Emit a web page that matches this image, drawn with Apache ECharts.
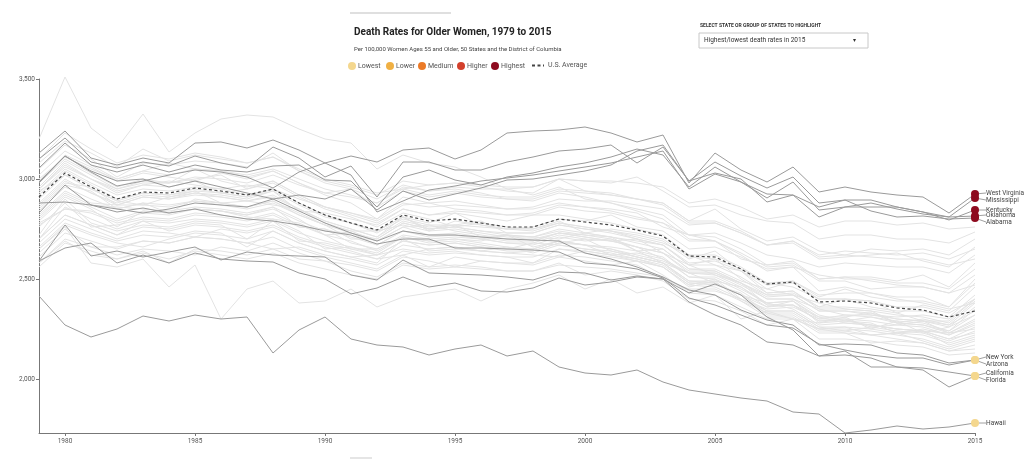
<!DOCTYPE html>
<html>
<head>
<meta charset="utf-8">
<script src="https://cdn.jsdelivr.net/npm/echarts@6/dist/echarts.min.js"></script>
<style>
html, body { margin: 0; padding: 0; background: #fff; }
#chart { width: 1024px; height: 460px; }
</style>
</head>
<body>
<div id="chart"></div>
<script>
var years = [1979,1980,1981,1982,1983,1984,1985,1986,1987,1988,1989,1990,1991,1992,1993,1994,1995,1996,1997,1998,1999,2000,2001,2002,2003,2004,2005,2006,2007,2008,2009,2010,2011,2012,2013,2014,2015];
var yTicks = [2000, 2500, 3000, 3500];
var xTicks = [1980, 1985, 1990, 1995, 2000, 2005, 2010, 2015];

var usAverage = [2910,3030,2960,2900,2935,2930,2955,2940,2920,2950,2880,2820,2780,2745,2820,2790,2800,2780,2760,2760,2800,2785,2770,2745,2715,2615,2610,2550,2475,2485,2385,2390,2380,2355,2345,2310,2340];

// five highest death rates in 2015
var highNames = ['West Virginia', 'Mississippi', 'Kentucky', 'Oklahoma', 'Alabama'];
var highValues = [
  [3130,3240,3105,3070,3105,3080,3180,3185,3155,3195,3145,3080,3115,3085,3145,3155,3100,3145,3230,3240,3245,3260,3230,3185,3220,2980,3130,3045,2985,3060,2935,2960,2935,2920,2910,2830,2925],
  [3100,3205,3085,3055,3085,3065,3115,3080,3055,3160,3105,3010,3065,2910,3085,3085,3045,3045,3085,3110,3140,3150,3170,3080,3160,2990,3085,3015,2955,3010,2880,2895,2895,2860,2835,2810,2905],
  [3055,3180,3070,3035,3070,3035,3070,3045,3035,3065,3070,2995,2990,2860,3010,3045,2995,2970,3010,3030,3060,3080,3110,3150,3120,2960,3060,2985,2905,2985,2845,2860,2860,2860,2835,2795,2845],
  [2880,2885,2870,2850,2830,2850,2880,2870,2860,2900,2920,2900,2950,2845,2940,2895,2925,2955,2995,3000,3020,3040,3070,3140,3170,2990,3030,3000,2885,2920,2810,2860,2880,2850,2825,2810,2815],
  [2980,3115,3035,2965,2990,3020,3045,3035,3010,2955,3035,3080,3020,2835,2890,2945,2965,2990,3005,3020,3040,3060,3080,3110,3140,2950,3025,2985,2925,2920,2860,2895,2840,2810,2815,2800,2805]
];

// five lowest death rates in 2015
var lowNames = ['New York', 'Arizona', 'California', 'Florida', 'Hawaii'];
var lowValues = [
  [2985,3115,3040,2990,3000,2960,2990,2960,2930,2900,2840,2780,2730,2690,2740,2720,2720,2710,2700,2695,2690,2630,2600,2560,2510,2445,2420,2345,2295,2270,2170,2175,2170,2130,2120,2080,2095],
  [2830,2970,2870,2835,2855,2830,2850,2820,2800,2790,2770,2740,2720,2675,2700,2700,2655,2655,2650,2645,2635,2580,2570,2550,2505,2405,2370,2320,2270,2255,2175,2145,2120,2105,2105,2070,2095],
  [2590,2770,2615,2640,2610,2635,2660,2595,2635,2620,2615,2610,2520,2495,2595,2530,2525,2520,2510,2495,2535,2530,2495,2515,2500,2430,2475,2420,2310,2245,2115,2140,2060,2060,2045,1960,2015],
  [2590,2655,2680,2580,2620,2580,2630,2600,2590,2585,2530,2500,2425,2455,2510,2460,2480,2440,2435,2455,2505,2470,2485,2510,2500,2385,2320,2270,2185,2170,2115,2120,2105,2060,2055,2035,2015],
  [2415,2270,2210,2250,2315,2290,2320,2300,2310,2130,2245,2310,2200,2170,2160,2120,2150,2170,2115,2140,2060,2030,2020,2045,1985,1945,1925,1905,1890,1835,1825,1730,1745,1765,1750,1760,1780]
];

// remaining states and DC, drawn in light grey
var otherValues = [
  [3050,3170,3100,3010,3080,3070,3090,3080,3060,3130,3040,2990,2960,2920,2990,2970,2980,2970,2960,2960,3000,2990,2980,3010,2940,2860,2870,2820,2790,2780,2700,2720,2720,2700,2700,2680,2735],
  [2990,3120,3060,2990,3030,3010,2990,3030,3000,3040,2980,2930,2950,2860,2940,2910,2930,2910,2900,2900,2940,2930,2920,2900,2880,2790,2850,2750,2690,2710,2640,2620,2650,2640,2650,2620,2700],
  [3080,3190,3130,3060,3150,3090,3120,3100,3080,3110,3050,3000,2970,2930,2950,2970,2980,2960,2940,2930,3000,2940,2920,2900,2870,2780,2780,2730,2670,2680,2600,2610,2620,2630,2590,2560,2660],
  [2860,2980,2960,2870,2910,2900,2930,2920,2900,2940,2840,2830,2800,2770,2850,2820,2840,2830,2820,2830,2870,2860,2850,2830,2760,2720,2730,2680,2620,2600,2560,2580,2570,2560,2560,2530,2620],
  [2950,3080,3000,2940,2970,2960,2990,2930,2950,2990,2920,2860,2830,2790,2870,2880,2850,2840,2820,2820,2860,2840,2830,2800,2780,2690,2690,2600,2570,2590,2500,2510,2510,2490,2520,2460,2580],
  [2780,2850,2840,2790,2830,2820,2850,2840,2820,2860,2800,2720,2730,2700,2780,2750,2770,2760,2750,2760,2800,2790,2820,2760,2740,2650,2660,2610,2550,2560,2520,2500,2500,2480,2480,2450,2550],
  [3020,3140,3070,3000,3040,3080,3050,3040,3010,3040,2980,2920,2880,2800,2910,2880,2890,2870,2850,2850,2880,2860,2840,2810,2780,2720,2690,2630,2560,2570,2490,2490,2450,2460,2460,2430,2520],
  [2700,2820,2770,2720,2760,2750,2780,2770,2700,2790,2730,2690,2660,2630,2710,2690,2700,2690,2720,2690,2730,2720,2710,2690,2670,2580,2590,2540,2450,2490,2420,2430,2430,2410,2410,2360,2500],
  [2940,3020,2950,2890,2930,2920,2950,2930,2910,2940,2870,2810,2780,2740,2810,2780,2830,2770,2750,2750,2790,2730,2750,2730,2700,2610,2600,2550,2480,2490,2410,2450,2410,2390,2390,2360,2480],
  [2820,2940,2880,2870,2870,2860,2890,2870,2850,2880,2820,2770,2700,2700,2780,2750,2760,2740,2730,2730,2770,2750,2740,2720,2690,2600,2640,2540,2470,2480,2400,2400,2390,2330,2370,2340,2460],
  [2960,3090,3020,2950,2990,2980,3050,2990,2960,2990,2920,2860,2820,2780,2850,2820,2830,2810,2790,2820,2820,2800,2780,2750,2720,2620,2620,2560,2480,2460,2400,2400,2390,2360,2360,2330,2400],
  [2650,2770,2720,2680,2660,2700,2730,2720,2700,2740,2680,2640,2610,2580,2700,2640,2650,2640,2630,2640,2680,2670,2660,2640,2580,2530,2530,2480,2420,2430,2360,2400,2360,2340,2340,2310,2420],
  [2880,3000,2930,2870,2910,2900,2920,2910,2890,2870,2850,2790,2750,2710,2790,2760,2770,2790,2730,2730,2770,2750,2730,2700,2670,2570,2570,2540,2430,2440,2360,2360,2350,2330,2290,2290,2400],
  [2760,2880,2760,2770,2800,2790,2820,2810,2790,2820,2760,2750,2680,2650,2720,2700,2710,2700,2680,2680,2720,2700,2690,2700,2630,2540,2540,2480,2410,2420,2380,2350,2340,2320,2310,2280,2390],
  [2930,3050,2980,2920,2950,2940,2960,2950,2970,2950,2880,2820,2780,2740,2810,2740,2790,2770,2750,2740,2780,2760,2740,2710,2680,2620,2570,2510,2430,2440,2350,2350,2340,2280,2300,2270,2380],
  [2840,2960,2900,2850,2880,2830,2900,2880,2860,2890,2830,2770,2740,2740,2770,2740,2750,2730,2710,2710,2700,2730,2710,2680,2650,2550,2550,2490,2450,2420,2340,2340,2330,2300,2290,2260,2360],
  [2720,2900,2780,2740,2770,2760,2790,2780,2760,2790,2690,2680,2650,2620,2690,2670,2680,2660,2650,2650,2690,2670,2620,2630,2600,2510,2510,2450,2380,2390,2310,2310,2330,2280,2270,2240,2350],
  [2980,3100,3030,2960,3000,2980,3000,3020,2950,2980,2910,2850,2810,2760,2830,2800,2760,2780,2760,2750,2780,2760,2740,2700,2670,2570,2600,2500,2420,2420,2340,2340,2320,2300,2290,2270,2340],
  [2790,2910,2850,2760,2840,2830,2850,2840,2820,2850,2790,2740,2730,2670,2740,2720,2730,2710,2690,2690,2730,2710,2690,2660,2600,2530,2530,2470,2400,2400,2320,2290,2310,2290,2280,2240,2320],
  [2680,2800,2750,2700,2740,2730,2710,2750,2730,2760,2700,2660,2630,2600,2670,2650,2660,2640,2660,2630,2670,2650,2640,2610,2580,2490,2490,2460,2370,2370,2290,2300,2290,2270,2290,2230,2300],
  [2900,3020,2950,2890,2870,2910,2930,2910,2890,2910,2850,2790,2750,2710,2810,2750,2760,2740,2720,2710,2750,2730,2710,2640,2650,2550,2540,2480,2400,2400,2350,2320,2310,2280,2270,2230,2290],
  [2610,2730,2690,2650,2690,2680,2710,2700,2680,2650,2660,2620,2600,2570,2640,2620,2630,2620,2610,2580,2650,2640,2620,2600,2570,2480,2480,2420,2360,2390,2280,2290,2280,2230,2250,2220,2280],
  [2850,2970,2940,2850,2880,2870,2890,2880,2860,2890,2820,2770,2730,2690,2760,2770,2740,2720,2700,2700,2730,2710,2690,2660,2630,2570,2520,2460,2380,2390,2300,2300,2260,2270,2260,2220,2270],
  [2700,2860,2800,2750,2790,2780,2800,2790,2770,2800,2740,2650,2660,2620,2690,2670,2680,2660,2640,2640,2680,2700,2640,2610,2580,2490,2480,2420,2380,2350,2270,2280,2270,2250,2240,2200,2260],
  [2950,3070,3000,2930,2970,2990,2970,2950,2920,2950,2880,2820,2780,2730,2800,2770,2770,2710,2720,2710,2740,2720,2700,2660,2630,2530,2520,2480,2370,2370,2290,2290,2270,2250,2240,2230,2250],
  [2660,2780,2730,2690,2720,2710,2740,2730,2660,2740,2680,2640,2610,2620,2650,2630,2640,2620,2610,2610,2650,2630,2610,2590,2560,2470,2500,2400,2340,2340,2260,2240,2260,2240,2230,2190,2240],
  [2810,2930,2870,2860,2850,2840,2860,2850,2830,2860,2760,2750,2710,2670,2740,2710,2720,2700,2680,2670,2710,2690,2700,2640,2610,2510,2500,2440,2360,2370,2310,2280,2270,2250,2240,2200,2230],
  [2580,2700,2660,2620,2650,2640,2620,2660,2640,2680,2630,2590,2570,2540,2610,2590,2560,2590,2580,2580,2620,2610,2590,2570,2500,2450,2450,2390,2330,2330,2250,2260,2220,2230,2220,2180,2220],
  [2770,2850,2830,2780,2810,2800,2830,2820,2800,2830,2770,2720,2650,2650,2710,2690,2700,2680,2660,2650,2690,2670,2650,2620,2590,2530,2480,2420,2340,2340,2260,2260,2250,2230,2240,2170,2210],
  [2700,2820,2770,2720,2790,2740,2770,2760,2740,2770,2710,2670,2640,2600,2620,2650,2660,2640,2630,2620,2610,2640,2620,2590,2560,2470,2460,2400,2330,2300,2250,2250,2240,2220,2200,2160,2200],
  [2920,3040,2970,2900,2930,2920,2940,2880,2890,2920,2850,2780,2740,2690,2760,2720,2720,2700,2720,2660,2690,2670,2650,2610,2580,2480,2470,2430,2320,2320,2240,2240,2220,2230,2190,2150,2190],
  [2630,2750,2660,2660,2690,2680,2710,2700,2680,2710,2650,2610,2580,2550,2620,2560,2610,2590,2580,2570,2610,2590,2570,2590,2520,2430,2420,2360,2300,2300,2250,2230,2220,2200,2180,2140,2170],
  [2800,2920,2860,2800,2840,2830,2850,2840,2810,2800,2780,2720,2690,2640,2710,2680,2690,2670,2650,2680,2670,2650,2630,2600,2560,2460,2490,2390,2310,2310,2230,2230,2180,2190,2180,2140,2150],
  [2560,2680,2640,2600,2640,2580,2650,2640,2620,2650,2600,2590,2540,2510,2580,2560,2570,2560,2540,2540,2580,2520,2540,2520,2490,2400,2390,2340,2270,2300,2200,2200,2190,2170,2160,2120,2130],
  [2650,2760,2580,2560,2600,2460,2570,2300,2450,2490,2380,2390,2450,2360,2410,2430,2450,2390,2450,2480,2520,2450,2500,2430,2460,2380,2420,2300,2340,2300,2280,2310,2250,2290,2230,2260,2320],
  [2580,2690,2620,2600,2630,2600,2640,2620,2600,2630,2580,2550,2520,2500,2570,2550,2560,2550,2540,2540,2570,2560,2550,2530,2510,2440,2440,2400,2350,2360,2300,2320,2320,2310,2320,2300,2400],
  [3000,3110,3050,3000,3040,3020,3050,3040,3020,3050,3000,2950,2920,2880,2950,2920,2940,2920,2910,2910,2950,2940,2930,2900,2880,2790,2790,2740,2670,2690,2610,2620,2610,2600,2600,2570,2600],
  [2870,2990,2930,2880,2920,2910,2940,2930,2910,2950,2900,2860,2830,2800,2880,2860,2870,2860,2850,2860,2900,2890,2890,2870,2850,2770,2780,2730,2670,2690,2620,2640,2630,2620,2630,2600,2650],
  [3200,3510,3255,3155,3325,3135,3230,3300,3320,3310,3250,3200,3180,3050,3120,3080,3060,3010,2950,2920,2960,2900,2880,2840,2800,2700,2690,2620,2540,2560,2440,2460,2430,2400,2380,2350,2380],
  [3100,3230,3150,3080,3120,3100,3130,3110,3080,3110,3040,2980,2950,2900,2970,2940,2950,2930,2900,2890,2930,2910,2880,2850,2820,2720,2710,2650,2570,2580,2500,2510,2490,2470,2460,2430,2470],
  [2950,3060,3000,2950,2980,2980,3010,3000,2980,3020,2970,2930,2910,2880,2960,2940,2960,2950,2950,2960,3000,2990,2990,2980,2960,2880,2900,2860,2800,2820,2760,2790,2790,2770,2780,2750,2760]
];

var legendNames = ['Lowest', 'Lower', 'Medium', 'Higher', 'Highest'];
var legendColors = ['#f4d78e', '#f0b043', '#eb7a27', '#d3402c', '#8e0b1f'];

// layout helpers (pixels), not data
var legendLeft = [348, 386, 418, 457, 491];
var highLabelShift = [-1, 2, 0, -1, 4];
var lowLabelShift = [-3, 4, -3, 4, 0];

var FONT = 'Roboto, "Noto Sans", sans-serif';
var chart = echarts.init(document.getElementById('chart'));

function toPoints(values) {
  return values.map(function (v, i) { return [years[i], v]; });
}

var series = [];

otherValues.forEach(function (vals) {
  series.push({
    type: 'line', data: toPoints(vals), symbol: 'none', silent: true, clip: false,
    lineStyle: { color: '#e3e3e3', width: 1 }, z: 1
  });
});

highNames.concat(lowNames).forEach(function (name, i) {
  var vals = i < 5 ? highValues[i] : lowValues[i - 5];
  series.push({
    name: name, type: 'line', data: toPoints(vals), symbol: 'none', silent: true,
    lineStyle: { color: '#9a9a9a', width: 1 }, z: 3
  });
});

series.push({
  name: 'U.S. Average', type: 'line', data: toPoints(usAverage), symbol: 'none', silent: true,
  itemStyle: { color: '#444' },
  lineStyle: { color: '#444', width: 1.2, type: [3, 2.5] }, z: 4
});

function endDots(names, values) {
  return names.map(function (n, i) {
    return { name: n, value: [years[years.length - 1], values[i][values[i].length - 1]] };
  });
}

legendNames.forEach(function (name, i) {
  var data = [];
  var shift = null;
  if (name === 'Lowest') { data = endDots(lowNames, lowValues); shift = lowLabelShift; }
  if (name === 'Highest') { data = endDots(highNames, highValues); shift = highLabelShift; }
  series.push({
    name: name, type: 'scatter', data: data, symbolSize: 8, silent: true, z: 6,
    itemStyle: { color: legendColors[i], opacity: 1 },
    label: {
      show: true, position: 'right', distance: 7, formatter: '{b}',
      fontSize: 6.5, color: '#444', fontFamily: FONT
    },
    labelLine: { show: true, lineStyle: { color: '#888', width: 0.8 } },
    labelLayout: function (p) {
      return { dy: shift ? shift[p.dataIndex] : 0 };
    }
  });
});

var legends = legendNames.map(function (name, i) {
  return {
    data: [name], left: legendLeft[i], top: 62, padding: 0, icon: 'circle', itemWidth: 8, itemHeight: 8,
    selectedMode: false,
    textStyle: { fontSize: 7, color: '#555', fontFamily: FONT, padding: [0, 0, 0, -3] }
  };
});
legends.push({
  data: ['U.S. Average'], left: 531, top: 62, padding: 0, itemWidth: 12, itemHeight: 8,
  selectedMode: false, itemStyle: { opacity: 0 },
  textStyle: { fontSize: 7, color: '#555', fontFamily: FONT, padding: [0, 0, 0, -1] }
});

var option = {
  animation: false,
  title: [
    { text: 'Death Rates for Older Women, 1979 to 2015', left: 349, top: 22,
      textStyle: { fontSize: 10, fontWeight: 'bold', color: '#222', fontFamily: FONT } },
    { text: 'Per 100,000 Women Ages 55 and Older, 50 States and the District of Columbia', left: 349, top: 41,
      textStyle: { fontSize: 6, fontWeight: 'normal', color: '#444', fontFamily: FONT } }
  ],
  legend: legends,
  grid: { left: 39, right: 49, top: 79, bottom: 27, containLabel: false },
  xAxis: {
    type: 'value', min: 1979, max: 2015,
    axisLine: { lineStyle: { color: '#777', width: 1 } },
    axisTick: { show: true, length: 3, customValues: xTicks, lineStyle: { color: '#777' } },
    axisLabel: { customValues: xTicks, fontSize: 6.5, color: '#555', margin: 5, fontFamily: FONT,
      formatter: function (v) { return String(v); } },
    splitLine: { show: false }
  },
  yAxis: {
    type: 'value', min: 1730, max: 3500,
    axisLine: { show: true, lineStyle: { color: '#777', width: 1 } },
    axisTick: { show: true, length: 3, customValues: yTicks, lineStyle: { color: '#777' } },
    axisLabel: { customValues: yTicks, fontSize: 6.5, color: '#555', margin: 4, fontFamily: FONT,
      formatter: function (v) { return v.toLocaleString('en-US'); } },
    splitLine: { show: false }
  },
  graphic: [
    { type: 'line', shape: { x1: 350, y1: 13, x2: 451, y2: 13 }, style: { stroke: '#d5d5d5', lineWidth: 1.5 } },
    { type: 'text', x: 700, y: 26, style: { text: 'SELECT STATE OR GROUP OF STATES TO HIGHLIGHT', fontSize: 5, fontWeight: 'bold',
      fill: '#333', fontFamily: FONT, verticalAlign: 'middle' } },
    { type: 'rect', shape: { x: 699, y: 33, width: 169, height: 15 }, style: { fill: '#fff', stroke: '#c8c8c8', lineWidth: 1 } },
    { type: 'text', x: 704, y: 40.5, style: { text: 'Highest/lowest death rates in 2015', fontSize: 6.5, fill: '#333',
      fontFamily: FONT, verticalAlign: 'middle' } },
    { type: 'text', x: 854, y: 40.5, style: { text: '\u25BE', fontSize: 6, fill: '#333', verticalAlign: 'middle', align: 'center' } },
    { type: 'line', shape: { x1: 350, y1: 458, x2: 372, y2: 458 }, style: { stroke: '#dcdcdc', lineWidth: 1.5 } }
  ],
  series: series
};

chart.setOption(option);
</script>
</body>
</html>
